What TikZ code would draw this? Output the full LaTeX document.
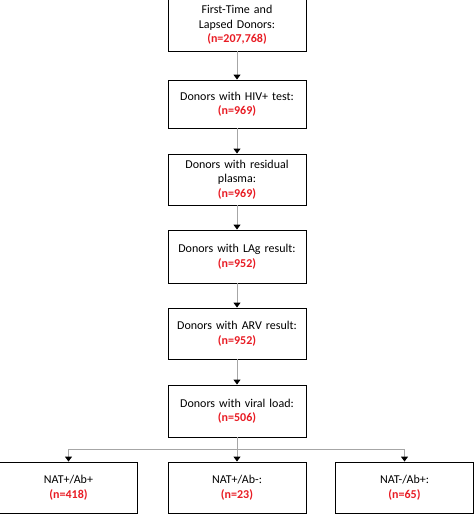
\documentclass[tikz,border=0pt]{standalone}
\usepackage{fontspec}
\setmainfont{Carlito}
\usepackage{xcolor}
\usetikzlibrary{arrows.meta}

\definecolor{nred}{RGB}{232,28,36}
\definecolor{lgray}{RGB}{166,166,166}

\tikzset{
	box/.style={draw=black,line width=0.9pt,minimum width=138pt,minimum height=51pt,inner sep=0pt,
		text width=136pt,align=center,font=\fontsize{12}{14.5}\selectfont},
	flow/.style={draw=lgray,line width=1pt,-{Triangle[color=black,length=5pt,width=7pt]}},
	split/.style={draw=lgray,line width=1pt}
}
\newcommand{\nval}[1]{\textcolor{nred}{\textbf{(n=#1)}}}

\begin{document}
\begin{tikzpicture}[x=1pt,y=1pt]
			\useasboundingbox (0,0) rectangle (474,-514);
			
			%main column
			\node[box,minimum height=52pt] (d1) at (237,-25) {First-Time and\\Lapsed Donors:\\\nval{207,768}};
			\node[box,minimum height=48pt] (d2) at (237,-104) {Donors with HIV+ test:\\\nval{969}};
			\node[box] (d3) at (237,-179.5) {Donors with residual\\plasma:\\\nval{969}};
			\node[box,minimum height=53pt] (d4) at (237,-256.5) {Donors with LAg result:\\\nval{952}};
			\node[box] (d5) at (237,-333.5) {Donors with ARV result:\\\nval{952}};
			\node[box,minimum height=52pt] (d6) at (237,-411) {Donors with viral load:\\\nval{506}};
			
			%groups
			\node[box] (g1) at (68.5,-487.5) {NAT+/Ab+\\\nval{418}};
			\node[box] (g2) at (237,-487.5) {NAT+/Ab-:\\\nval{23}};
			\node[box] (g3) at (404.5,-487.5) {NAT-/Ab+:\\\nval{65}};
			
			\foreach \a/\b in {d1/d2,d2/d3,d3/d4,d4/d5,d5/d6}{
				\draw[flow] (\a) -- (\b);
			}
			
			%split
			\coordinate (k) at (237,-449);
			\draw[split] (d6) -- (k);
			\draw[split] (g1|-k) -- (g3|-k);
			\foreach \g in {g1,g2,g3}{
				\draw[flow] (\g|-k) -- (\g);
			}
			
\end{tikzpicture}
\end{document}
